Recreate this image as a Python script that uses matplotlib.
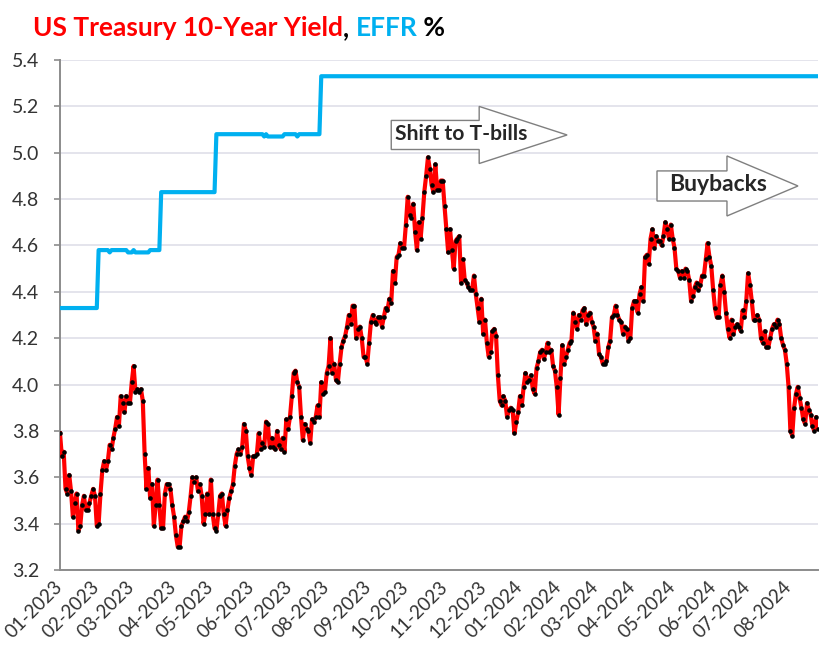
import matplotlib
matplotlib.use('Agg')
import matplotlib.pyplot as plt
from matplotlib.patches import Polygon
from matplotlib.transforms import ScaledTranslation
import numpy as np
import pandas as pd

plt.rcParams['font.family'] = ['Lato', 'DejaVu Sans']

# days the bond market was shut
market_holidays = ['2023-01-02', '2023-01-16', '2023-02-20', '2023-05-29', '2023-06-19',
                   '2023-07-04', '2023-09-04', '2023-10-09', '2023-11-23', '2023-12-25',
                   '2024-01-01', '2024-01-15', '2024-02-19', '2024-03-29', '2024-05-27',
                   '2024-06-19', '2024-07-04']

# US Treasury 10-year yield, daily, one list per month
ust_2023_01 = [3.79, 3.69, 3.71, 3.55, 3.53, 3.61, 3.54, 3.43, 3.49, 3.53, 3.37, 3.39, 3.48, 3.52,
               3.46, 3.46, 3.49, 3.52, 3.55, 3.52]
ust_2023_02 = [3.39, 3.40, 3.53, 3.63, 3.67, 3.63, 3.67, 3.74, 3.72, 3.77, 3.81, 3.86, 3.82, 3.95,
               3.92, 3.88, 3.95, 3.92, 3.92]
ust_2023_03 = [4.01, 4.08, 3.97, 3.98, 3.97, 3.98, 3.93, 3.70, 3.55, 3.64, 3.51, 3.57, 3.39, 3.48,
               3.59, 3.48, 3.38, 3.38, 3.53, 3.57, 3.57, 3.55, 3.48]
ust_2023_04 = [3.43, 3.35, 3.30, 3.30, 3.39, 3.41, 3.43, 3.41, 3.45, 3.52, 3.60, 3.58, 3.60, 3.54,
               3.57, 3.52, 3.40, 3.44, 3.53, 3.44]
ust_2023_05 = [3.59, 3.44, 3.38, 3.37, 3.44, 3.52, 3.53, 3.44, 3.39, 3.46, 3.51, 3.54, 3.57, 3.65,
               3.70, 3.72, 3.70, 3.73, 3.83, 3.80, 3.69, 3.64]
ust_2023_06 = [3.61, 3.69, 3.69, 3.70, 3.79, 3.72, 3.75, 3.73, 3.84, 3.83, 3.73, 3.77, 3.73, 3.72,
               3.80, 3.74, 3.72, 3.77, 3.71, 3.85, 3.81]
ust_2023_07 = [3.86, 3.95, 4.05, 4.06, 4.01, 3.99, 3.86, 3.76, 3.83, 3.81, 3.80, 3.75, 3.85, 3.84,
               3.86, 3.91, 3.86, 4.01, 3.96, 3.97]
ust_2023_08 = [4.05, 4.08, 4.20, 4.05, 4.09, 4.02, 4.01, 4.09, 4.16, 4.19, 4.21, 4.25, 4.30, 4.26,
               4.34, 4.34, 4.20, 4.24, 4.25, 4.20, 4.12, 4.12, 4.09]
ust_2023_09 = [4.18, 4.27, 4.30, 4.27, 4.26, 4.29, 4.29, 4.25, 4.29, 4.33, 4.32, 4.37, 4.35, 4.49,
               4.44, 4.55, 4.56, 4.61, 4.59, 4.59]
ust_2023_10 = [4.69, 4.81, 4.73, 4.72, 4.78, 4.66, 4.58, 4.70, 4.63, 4.72, 4.83, 4.90, 4.98, 4.93,
               4.86, 4.83, 4.95, 4.84, 4.84, 4.88, 4.88]
ust_2023_11 = [4.77, 4.67, 4.57, 4.67, 4.58, 4.50, 4.62, 4.63, 4.64, 4.44, 4.54, 4.45, 4.44, 4.42,
               4.41, 4.41, 4.47, 4.39, 4.33, 4.27, 4.37]
ust_2023_12 = [4.22, 4.28, 4.18, 4.12, 4.14, 4.23, 4.24, 4.21, 4.04, 3.93, 3.91, 3.95, 3.93, 3.86,
               3.89, 3.90, 3.89, 3.79, 3.84, 3.88]
ust_2024_01 = [3.95, 3.91, 3.99, 4.05, 4.01, 4.02, 4.04, 3.98, 3.96, 4.07, 4.10, 4.14, 4.15, 4.11,
               4.14, 4.18, 4.14, 4.15, 4.08, 4.06, 3.99]
ust_2024_02 = [3.87, 4.03, 4.17, 4.09, 4.12, 4.15, 4.18, 4.19, 4.31, 4.27, 4.24, 4.30, 4.28, 4.32,
               4.33, 4.26, 4.30, 4.31, 4.27, 4.25]
ust_2024_03 = [4.19, 4.22, 4.13, 4.12, 4.09, 4.09, 4.10, 4.16, 4.19, 4.29, 4.30, 4.34, 4.30, 4.28,
               4.27, 4.22, 4.25, 4.24, 4.19, 4.20]
ust_2024_04 = [4.33, 4.36, 4.36, 4.31, 4.39, 4.42, 4.36, 4.55, 4.56, 4.52, 4.63, 4.67, 4.59, 4.64,
               4.62, 4.62, 4.60, 4.64, 4.70, 4.67, 4.63, 4.69]
ust_2024_05 = [4.63, 4.59, 4.50, 4.49, 4.46, 4.49, 4.46, 4.50, 4.49, 4.45, 4.36, 4.38, 4.42, 4.44,
               4.41, 4.43, 4.47, 4.47, 4.54, 4.61, 4.55, 4.51]
ust_2024_06 = [4.41, 4.33, 4.29, 4.29, 4.43, 4.47, 4.40, 4.31, 4.24, 4.20, 4.28, 4.22, 4.25, 4.26,
               4.25, 4.23, 4.32, 4.29, 4.36]
ust_2024_07 = [4.48, 4.43, 4.36, 4.28, 4.28, 4.30, 4.28, 4.20, 4.18, 4.23, 4.16, 4.16, 4.20, 4.24,
               4.26, 4.25, 4.28, 4.26, 4.20, 4.17, 4.15, 4.09]
ust_2024_08 = [3.99, 3.80, 3.78, 3.90, 3.96, 3.99, 3.94, 3.90, 3.85, 3.83, 3.92, 3.89, 3.87, 3.82,
               3.80, 3.86, 3.81]

# effective fed funds rate: date it changed and the new level
effr_change_dates = ['2023-01-03', '2023-02-02', '2023-02-10', '2023-02-13', '2023-02-27',
                     '2023-03-02', '2023-03-03', '2023-03-15', '2023-03-23', '2023-05-04',
                     '2023-06-12', '2023-06-13', '2023-06-14', '2023-06-28', '2023-07-10',
                     '2023-07-11', '2023-07-27']
effr_change_rates = [4.33, 4.58, 4.57, 4.58, 4.57, 4.58, 4.57, 4.58, 4.83, 5.08,
                     5.07, 5.08, 5.07, 5.08, 5.07, 5.08, 5.33]

yticks = [3.2, 3.4, 3.6, 3.8, 4.0, 4.2, 4.4, 4.6, 4.8, 5.0, 5.2, 5.4]

ust = np.concatenate([ust_2023_01, ust_2023_02, ust_2023_03, ust_2023_04, ust_2023_05,
                      ust_2023_06, ust_2023_07, ust_2023_08, ust_2023_09, ust_2023_10,
                      ust_2023_11, ust_2023_12, ust_2024_01, ust_2024_02, ust_2024_03,
                      ust_2024_04, ust_2024_05, ust_2024_06, ust_2024_07, ust_2024_08])
bday = pd.offsets.CustomBusinessDay(holidays=market_holidays)
dates = pd.date_range('2023-01-03', periods=len(ust), freq=bday)
effr = pd.Series(effr_change_rates, index=pd.to_datetime(effr_change_dates)).reindex(dates, method='ffill')
x = np.arange(len(dates))

fig = plt.figure(figsize=(8.29, 6.59), dpi=100)
ax = fig.add_axes([60 / 829, 89 / 659, 758 / 829, 510 / 659])

ax.plot(x, effr.values, color='#00B0F0', lw=3.0, zorder=3)
ax.plot(x, ust, color='#FF0000', lw=3.0, zorder=3)
ax.plot(x, ust, 'o', color='black', ms=3.3, mew=0, zorder=4)

ax.set_xlim(0, len(x) - 1)
ax.set_ylim(3.2, 5.4)
ax.set_yticks(yticks)
ax.set_yticklabels([f'{v:.1f}' for v in yticks])
ax.grid(axis='y', color='#E2E2EA', lw=1.3)
ax.set_axisbelow(True)

month_start = np.flatnonzero(np.r_[True, dates.month[1:] != dates.month[:-1]])
ax.set_xticks(x[month_start])
ax.set_xticklabels(dates[month_start].strftime('%m-%Y'), rotation=45, ha='right', va='center',
                   rotation_mode='anchor')
shift = ScaledTranslation(4 / 72, -2 / 72, fig.dpi_scale_trans)
for lbl in ax.get_xticklabels():
    lbl.set_transform(lbl.get_transform() + shift)

for side in ['top', 'right']:
    ax.spines[side].set_visible(False)
for side in ['left', 'bottom']:
    ax.spines[side].set_color('#8C8C8C')
    ax.spines[side].set_linewidth(1.4)
ax.tick_params(axis='y', length=4, width=1.2, color='#8C8C8C', pad=11, labelsize=14, labelcolor='#333333')
ax.tick_params(axis='x', length=0, pad=10, labelsize=13.5, labelcolor='#333333')


def block_arrow(x0, yc, body_len, body_h, head_len, head_h):
    pts = [(x0, yc - body_h / 2), (x0 + body_len, yc - body_h / 2), (x0 + body_len, yc - head_h / 2),
           (x0 + body_len + head_len, yc), (x0 + body_len, yc + head_h / 2),
           (x0 + body_len, yc + body_h / 2), (x0, yc + body_h / 2)]
    ax.add_patch(Polygon(pts, closed=True, transform=ax.transAxes, fc='white', ec='#7F7F7F',
                         lw=1.0, zorder=5))


block_arrow(0.437, 0.853, 0.116, 0.057, 0.116, 0.112)
ax.text(0.442, 0.855, 'Shift to T-bills', transform=ax.transAxes, fontsize=15.2, fontweight='bold',
        color='#262626', va='center', ha='left', zorder=6)
block_arrow(0.7876, 0.753, 0.0923, 0.059, 0.0937, 0.1177)
ax.text(0.803, 0.755, 'Buybacks', transform=ax.transAxes, fontsize=16.5, fontweight='bold',
        color='#262626', va='center', ha='left', zorder=6)

# title in three colours
t1 = fig.text(33 / 829, 1 - 40 / 659, 'US Treasury 10-Year Yield', color='#FF0000', fontsize=19,
              fontweight='bold', va='bottom')
t2 = ax.annotate(', ', xy=(1, 0), xycoords=t1, color='black', fontsize=19, fontweight='bold', va='bottom')
t3 = ax.annotate('EFFR', xy=(1, 0), xycoords=t2, color='#00B0F0', fontsize=19, fontweight='bold', va='bottom')
ax.annotate(' %', xy=(1, 0), xycoords=t3, color='black', fontsize=19, fontweight='bold', va='bottom')

fig.savefig('out.png', dpi=100)
